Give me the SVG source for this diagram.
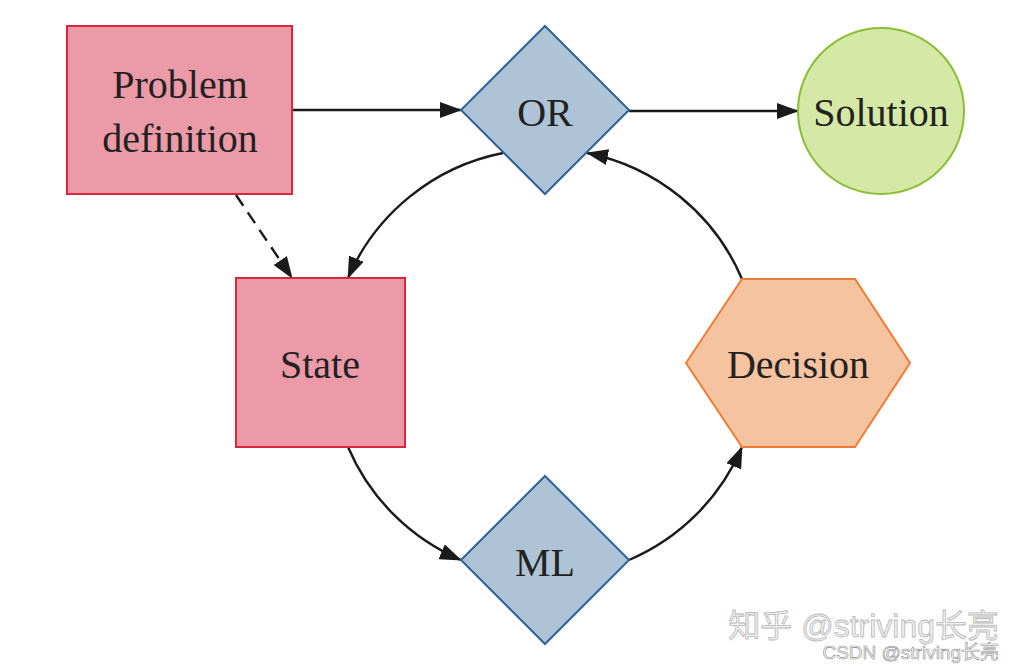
<svg xmlns="http://www.w3.org/2000/svg" width="1026" height="668" viewBox="0 0 1026 668">
<defs>
<style>
.lbl{font-family:"Liberation Serif","DejaVu Serif",serif;font-size:40px;fill:#222;text-anchor:middle}
.rect{fill:#ec9aa7;stroke:#d8263e;stroke-width:2}
.dia{fill:#aec4d6;stroke:#2e6399;stroke-width:2}
.hex{fill:#f6c3a1;stroke:#ee7b36;stroke-width:2}
.circ{fill:#d6e8a6;stroke:#8bbe36;stroke-width:2}
.edge{fill:none;stroke:#1a1a1a;stroke-width:2.4}
.wm{font-family:"Liberation Sans","Noto Sans CJK SC",sans-serif;text-anchor:end}
</style>
<marker id="ah" viewBox="0 0 22 16" refX="21" refY="8" markerWidth="22" markerHeight="16" markerUnits="userSpaceOnUse" orient="auto">
<path d="M0,0 L22,8 L0,16 Z" fill="#1a1a1a"/>
</marker>
</defs>
<rect width="1026" height="668" fill="#fff"/>
<g id="connectors">
<line class="edge" x1="292" y1="110" x2="461" y2="110" marker-end="url(#ah)"/>
<line class="edge" x1="629" y1="111" x2="798" y2="111" marker-end="url(#ah)"/>
<line class="edge" x1="236" y1="195" x2="292" y2="278" stroke-dasharray="13 8" marker-end="url(#ah)"/>
<path class="edge" d="M503,153 A214,214 0 0 0 348,278" marker-end="url(#ah)"/>
<path class="edge" d="M348,447 A214,214 0 0 0 461,560" marker-end="url(#ah)"/>
<path class="edge" d="M629,560 A214,214 0 0 0 742,447" marker-end="url(#ah)"/>
<path class="edge" d="M742,279 A214,214 0 0 0 587,153" marker-end="url(#ah)"/>
</g>
<g id="problem">
<rect class="rect" x="67" y="26" width="225" height="168"/>
<text class="lbl" x="180" y="98">Problem</text>
<text class="lbl" x="180" y="152">definition</text>
</g>
<g id="or">
<polygon class="dia" points="545,26 629,110 545,194 461,110"/>
<text class="lbl" x="545" y="126">OR</text>
</g>
<g id="solution">
<circle class="circ" cx="881" cy="111" r="83"/>
<text class="lbl" x="881" y="126">Solution</text>
</g>
<g id="state">
<rect class="rect" x="236" y="278" width="169" height="169"/>
<text class="lbl" x="320" y="378">State</text>
</g>
<g id="decision">
<polygon class="hex" points="686,363 742,279 855,279 910,363 855,447 742,447"/>
<text class="lbl" x="798" y="378">Decision</text>
</g>
<g id="ml">
<polygon class="dia" points="545,476 629,560 545,644 461,560"/>
<text class="lbl" x="545" y="576">ML</text>
</g>
<g id="watermark">
<text class="wm" x="999" y="637" font-size="32" fill="#f0f0f0" stroke="#b8b8b8" stroke-width="0.8">知乎 @striving长亮</text>
<text class="wm" x="999" y="659" font-size="19" fill="#ffffff" stroke="#8a8a8a" stroke-width="0.6">CSDN @striving长亮</text>
</g>
</svg>
